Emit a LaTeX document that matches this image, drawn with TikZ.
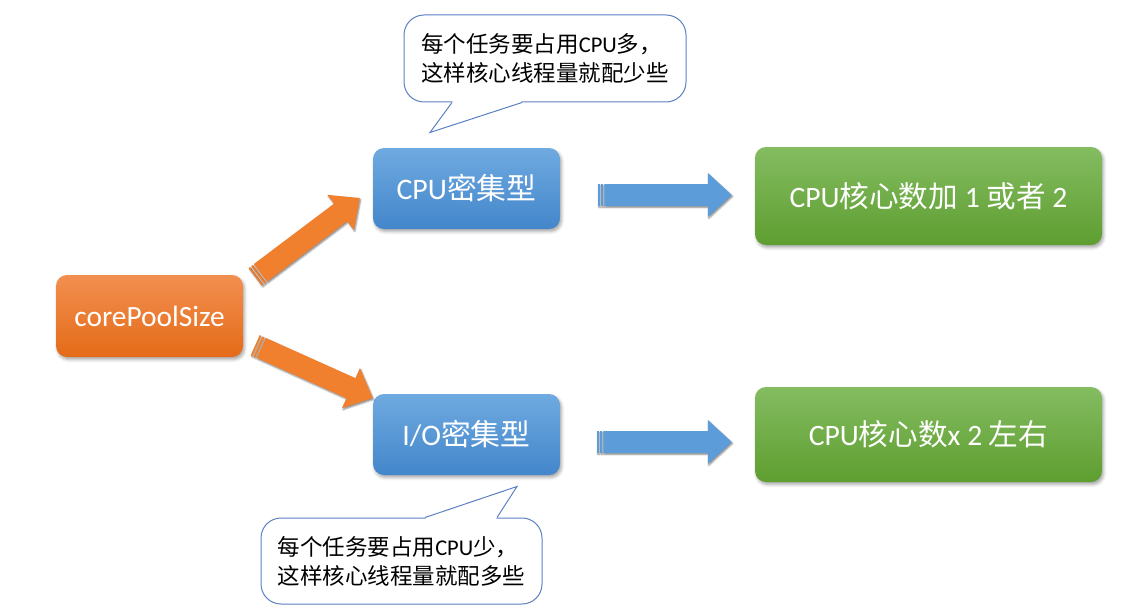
\documentclass[tikz,border=0pt]{standalone}
\usepackage{fontspec}
\setmainfont{Carlito}
\newfontfamily\cjk{Noto Sans CJK SC}
\usetikzlibrary{shadows.blur,calc}
\definecolor{orangeT}{HTML}{F28F50}
\definecolor{orangeB}{HTML}{E46B18}
\definecolor{blueT}{HTML}{6FAAE0}
\definecolor{blueB}{HTML}{4386CB}
\definecolor{greenT}{HTML}{84BC61}
\definecolor{greenB}{HTML}{5E9E30}
\definecolor{calloutline}{HTML}{5B80C4}
\definecolor{arrowOrange}{HTML}{F07F2E}
\definecolor{arrowBlue}{HTML}{5B9CD9}
\tikzset{
  boxshadow/.style={blur shadow={shadow xshift=1.5pt, shadow yshift=-2.5pt, shadow blur radius=3pt, shadow opacity=35}},
  box/.style={rounded corners=11pt, inner sep=0pt, text=white, boxshadow},
  orangebox/.style={box, top color=orangeT, bottom color=orangeB, minimum width=187pt, minimum height=82pt, font=\fontsize{29.4}{33}\selectfont},
  bluebox/.style={box, top color=blueT, bottom color=blueB, minimum width=187pt, minimum height=81pt, font=\fontsize{29.8}{33}\selectfont},
  greenbox/.style={box, top color=greenT, bottom color=greenB, minimum width=347pt, font=\fontsize{29.6}{33}\selectfont},
  callout/.style={draw=calloutline, line width=1pt, fill=white, rounded corners=20pt, inner sep=0pt, align=left, font=\fontsize{22.5}{29}\selectfont, minimum width=282pt, minimum height=87pt},
  calloutedge/.style={draw=calloutline, line width=1pt, line join=miter},
  arrowshadow/.style={blur shadow={shadow xshift=1pt, shadow yshift=-1.5pt, shadow blur radius=1.5pt, shadow opacity=45}},
  pics/blockarrow/.style args={#1/#2}{code={
    \pgfmathsetmacro\arrlen{#1}
    \fill[#2, arrowshadow] (0,-11) rectangle (1.8,11);
    \fill[#2, arrowshadow] (3.2,-11) rectangle (5.2,11);
    \fill[#2, arrowshadow] (6.6,-11) -- ({\arrlen-24},-11) -- ({\arrlen-24},-22) -- (\arrlen,0)
      -- ({\arrlen-24},22) -- ({\arrlen-24},11) -- (6.6,11) -- cycle;
  }},
}
\begin{document}
\begin{tikzpicture}[x=1pt,y=-1pt]
\useasboundingbox (0,0) rectangle (1147,615);

% main nodes
\node[orangebox] (core) at (149.5,316) {corePoolSize};
\node[bluebox] (cpu) at (466.5,188.5) {CPU{\cjk 密集型}};
\node[bluebox] (io) at (466.5,434.5) {I/O{\cjk 密集型}};
\node[greenbox, minimum height=98pt] (g1) at (928.5,196) {CPU{\cjk 核心数加} 1 {\cjk 或者} 2};
\node[greenbox, minimum height=95pt] (g2) at (928.5,434.5) {CPU{\cjk 核心数}x 2 {\cjk 左右}};

% callouts
\node[callout] (ct) at (545,58.5) {{\cjk 每个任务要占用}CPU{\cjk 多，}\\{\cjk 这样核心线程量就配少些}};
\coordinate (ctl) at ($(ct.south)+(-93,0)$);
\coordinate (ctr) at ($(ct.south)+(-23,0)$);
\coordinate (ctt) at ($(ct.south)+(-115,30)$);
\fill[white] ($(ctl)+(1,-1.5)$) -- (ctl) -- (ctt) -- (ctr) -- ($(ctr)+(-1,-1.5)$) -- cycle;
\draw[calloutedge] (ctl) -- (ctt) -- (ctr);

\node[callout, minimum width=281pt, minimum height=86pt] (cb) at (401.5,561) {{\cjk 每个任务要占用}CPU{\cjk 少，}\\{\cjk 这样核心线程量就配多些}};
\coordinate (cbl) at ($(cb.north)+(23.5,0)$);
\coordinate (cbr) at ($(cb.north)+(95.5,0)$);
\coordinate (cbt) at ($(cb.north)+(115.5,-31)$);
\fill[white] ($(cbl)+(1,1.5)$) -- (cbl) -- (cbt) -- (cbr) -- ($(cbr)+(-1,1.5)$) -- cycle;
\draw[calloutedge] (cbl) -- (cbt) -- (cbr);

% block arrows
\coordinate (a1s) at ($(core.north east)+(12,2)$);
\coordinate (a1e) at ($(cpu.west)+(-13,9.5)$);
\coordinate (a2s) at ($(core.south east)+(12,-12)$);
\coordinate (a2e) at ($(io.west)+(0,-36.5)$);
\coordinate (a3s) at ($(g1.west)+(-157,-1)$);
\coordinate (a3e) at ($(g1.west)+(-23,-1)$);
\coordinate (a4s) at ($(g2.west)+(-158,7.5)$);
\coordinate (a4e) at ($(g2.west)+(-23,7.5)$);

\path let \p1=($(a1e)-(a1s)$) in pic[rotate={atan2(\y1,\x1)}] at (a1s) {blockarrow={veclen(\x1,\y1)}/arrowOrange};
\path let \p1=($(a2e)-(a2s)$) in pic[rotate={atan2(\y1,\x1)}] at (a2s) {blockarrow={veclen(\x1,\y1)}/arrowOrange};
\path let \p1=($(a3e)-(a3s)$) in pic[rotate={atan2(\y1,\x1)}] at (a3s) {blockarrow={veclen(\x1,\y1)}/arrowBlue};
\path let \p1=($(a4e)-(a4s)$) in pic[rotate={atan2(\y1,\x1)}] at (a4s) {blockarrow={veclen(\x1,\y1)}/arrowBlue};
\end{tikzpicture}
\end{document}
